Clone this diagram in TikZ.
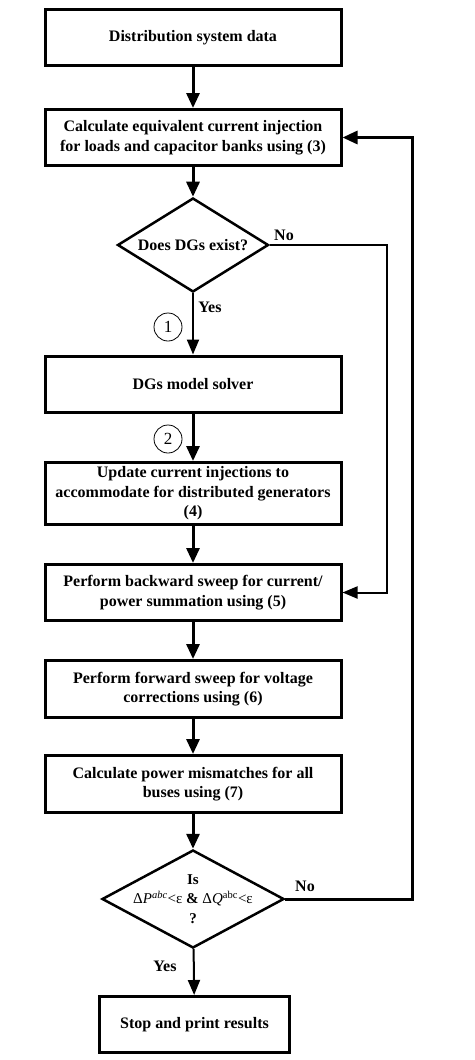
\documentclass[tikz,border=0pt]{standalone}
\usepackage{fontspec}
\setmainfont{Liberation Serif}
\usetikzlibrary{arrows.meta,shapes.geometric}
\begin{document}
\begin{tikzpicture}[x=1pt,y=-1pt,
  box/.style={draw,line width=3pt,minimum width=296pt,minimum height=56pt,inner sep=2pt,align=center,font=\bfseries\fontsize{16}{19.5}\selectfont},
  dia/.style={draw,diamond,line width=2.5pt,inner sep=0pt},
  conn/.style={line width=3pt,-{Triangle[length=15pt,width=13pt]}},
  tconn/.style={line width=2pt,-{Triangle[length=15pt,width=12pt]}},
  lab/.style={font=\bfseries\fontsize{16}{19}\selectfont,inner sep=0pt},
  num/.style={draw,circle,line width=0.8pt,minimum size=28pt,inner sep=0pt,font=\fontsize{17}{17}\selectfont}]
\useasboundingbox (0,0) rectangle (474,1060);
\fill[white] (0,0) rectangle (474,1060);

\node[box] (b1) at (193,37.5) {Distribution system data};
\node[box] (b2) at (193,137.5) {Calculate equivalent current injection\\for loads and capacitor banks using (3)};
\node[dia,minimum width=151pt,minimum height=94pt] (d1) at (193,245) {};
\node[lab] (d1t) at (d1.center) {Does DGs exist?};
\node[box] (b3) at (193,384) {DGs model solver};
\node[box,minimum height=62pt] (b4) at (193,493.5) {Update current injections to\\accommodate for distributed generators\\(4)};
\node[box] (b5) at (193,592.5) {Perform backward sweep for current/\\power summation using (5)};
\node[box,minimum height=57pt] (b6) at (193,689) {Perform forward sweep for voltage\\corrections using (6)};
\node[box,minimum height=57pt] (b7) at (193,784) {Calculate power mismatches for all\\buses using (7)};
\node[dia,minimum width=182pt,minimum height=98pt] (d2) at (193,899) {};
\node[lab,align=center,font=\bfseries\fontsize{15}{19.5}\selectfont] (d2t) at (d2.center) {Is\\{\mdseries Δ\textit{P}\textsuperscript{\textit{abc}}<ε} \& {\mdseries Δ\textit{Q}\textsuperscript{abc}<ε}\\?};
\node[box,minimum width=190pt] (b8) at (194.5,1024.5) {Stop and print results};

\node[num] (n1) at (168,327) {1};
\node[num] (n2) at (168,439) {2};

\coordinate (c1) at (387,245);
\coordinate (c2) at (412,899);

\draw[conn] (b1) -- (b2);
\draw[conn] (b2) -- (d1);
\draw[tconn] (d1) -- (b3);
\draw[conn] (b3) -- (b4);
\draw[conn] (b4) -- (b5);
\draw[conn] (b5) -- (b6);
\draw[conn] (b6) -- (b7);
\draw[conn] (b7) -- (d2);
\draw[tconn] (d2) -- (b8);
\draw[tconn] (d1.east) -- (c1) |- (b5.east);
\draw[conn] (d2.east) -- (c2) |- (b2.east);

\node[lab] (y1) at (210,307) {Yes};
\node[lab] (no1) at (284,235) {No};
\node[lab] (no2) at (305,886) {No};
\node[lab] (y2) at (165,966) {Yes};
\end{tikzpicture}
\end{document}
